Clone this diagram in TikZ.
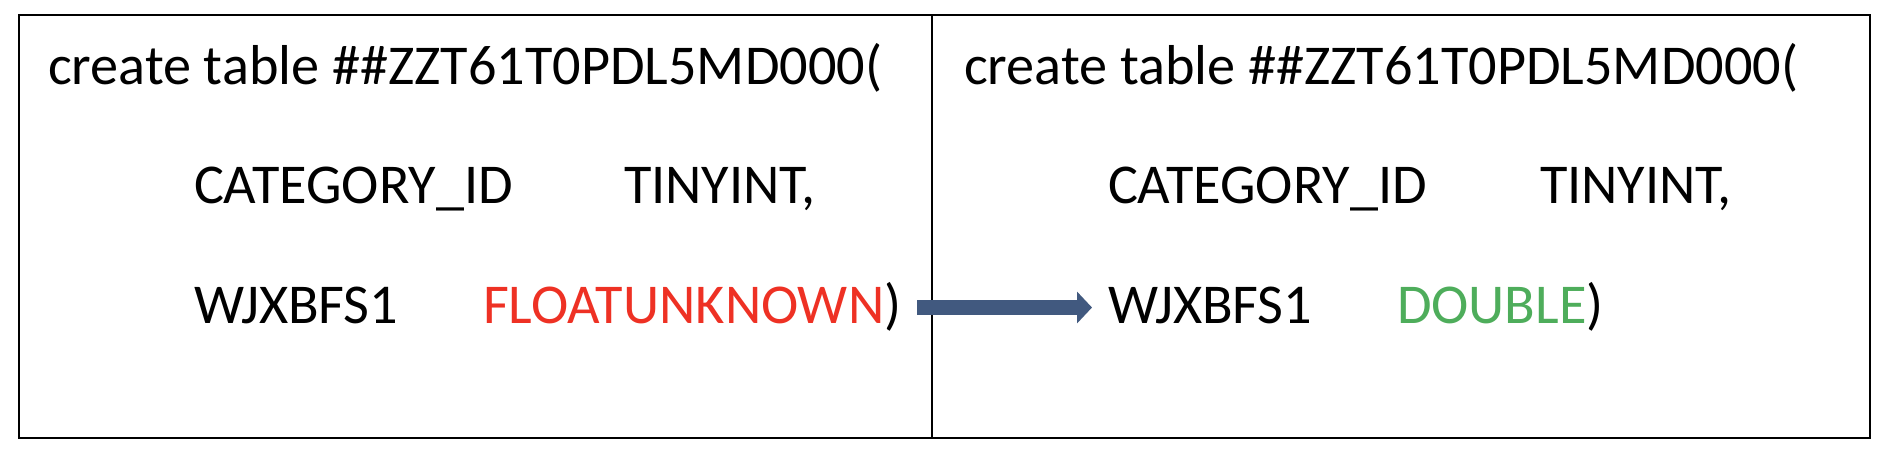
\documentclass[tikz,border=0pt]{standalone}
\usepackage{fontspec}
\setmainfont{Carlito}
\usetikzlibrary{arrows.meta}
\definecolor{redtxt}{RGB}{238,49,36}
\definecolor{greentxt}{RGB}{78,173,91}
\definecolor{arrowblue}{RGB}{65,89,127}
\tikzset{
  txt/.style={anchor=base west, inner sep=0pt, outer sep=0pt, font=\fontsize{16pt}{19pt}\selectfont},
  frame/.style={draw=black, line width=0.7pt},
  divider/.style={draw=black, line width=0.45pt},
  blockarrow/.style={draw=arrowblue, line width=1.5mm, -{Triangle[length=1.5mm,width=3.1mm]}}
}
\begin{document}
\begin{tikzpicture}[x=0.1mm,y=-0.1mm]
\useasboundingbox (0,0) rectangle (1890,460);
\fill[white] (0,0) rectangle (1890,460);
\draw[frame] (19,15) rectangle (1870,438);
\draw[divider] (932,15) -- (932,438);
% left panel
\node[txt] (lc) at (48,84) {create table \#\#ZZT61T0PDL5MD000(};
\node[txt] (lcat) at (194,203) {CATEGORY\_ID};
\node[txt] (lti) at (624,203) {TINYINT,};
\node[txt] (lw) at (194,323) {WJXBFS1};
\node[txt] (lf) at (483,323) {\textcolor{redtxt}{FLOATUNKNOWN})};
% right panel
\node[txt] (rc) at (964,84) {create table \#\#ZZT61T0PDL5MD000(};
\node[txt] (rcat) at (1108,203) {CATEGORY\_ID};
\node[txt] (rti) at (1540,203) {TINYINT,};
\node[txt] (rw) at (1108,323) {WJXBFS1};
\node[txt] (rd) at (1397,323) {\textcolor{greentxt}{DOUBLE})};
% arrow
\draw[blockarrow] ([shift={(16,-15.5)}]lf.base east) -- ([shift={(-16,-15.5)}]rw.base west);
\end{tikzpicture}
\end{document}
